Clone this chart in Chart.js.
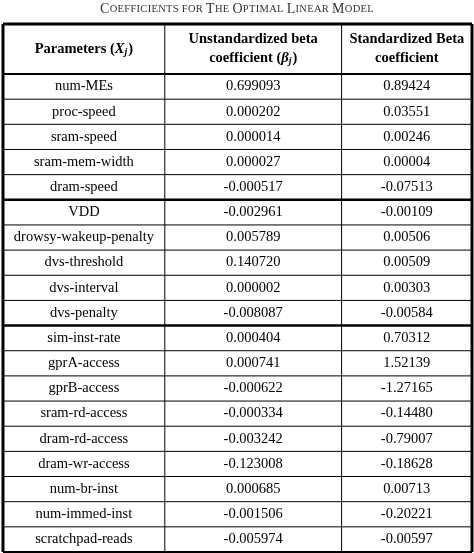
<!DOCTYPE html>
<html><head><meta charset="utf-8">
<script src="https://cdn.jsdelivr.net/npm/chart.js@4/dist/chart.umd.min.js"></script>
<style>
html,body{margin:0;padding:0;background:#fff;}
#wrap{width:474px;height:553px;position:relative;}
</style></head><body>
<div id="wrap"><canvas id="tbl"></canvas></div>
<script>
const params = ['num-MEs','proc-speed','sram-speed','sram-mem-width','dram-speed','VDD','drowsy-wakeup-penalty','dvs-threshold','dvs-interval','dvs-penalty','sim-inst-rate','gprA-access','gprB-access','sram-rd-access','dram-rd-access','dram-wr-access','num-br-inst','num-immed-inst','scratchpad-reads'];
const unstd = ['0.699093','0.000202','0.000014','0.000027','-0.000517','-0.002961','0.005789','0.140720','0.000002','-0.008087','0.000404','0.000741','-0.000622','-0.000334','-0.003242','-0.123008','0.000685','-0.001506','-0.005974'];
const std = ['0.89424','0.03551','0.00246','0.00004','-0.07513','-0.00109','0.00506','0.00509','0.00303','-0.00584','0.70312','1.52139','-1.27165','-0.14480','-0.79007','-0.18628','0.00713','-0.20221','-0.00597'];
const groupEnds = [4, 9];

const serif = '"Liberation Serif", "DejaVu Serif", serif';

// draw a run of [text, font] pieces centred on cx
function drawRuns(ctx, runs, cx, y) {
  let tw = 0;
  runs.forEach(r => { ctx.font = r[1]; tw += ctx.measureText(r[0]).width + (r[3] || 0); });
  let x = cx - tw / 2;
  ctx.textAlign = 'left';
  runs.forEach(r => { ctx.font = r[1]; ctx.fillText(r[0], x, y + (r[2] || 0)); x += ctx.measureText(r[0]).width + (r[3] || 0); });
  ctx.textAlign = 'center';
}

const tablePlugin = {
  id: 'table',
  afterDraw(chart) {
    const ctx = chart.ctx, xs = chart.scales.x, ys = chart.scales.y;
    const cols = [0, 1, 2, 3].map(v => xs.getPixelForValue(v));
    const top = 24, area = chart.chartArea;
    const rowH = ys.getPixelForValue(1) - ys.getPixelForValue(0);
    ctx.save();
    ctx.textBaseline = 'middle';
    // title in small caps
    ctx.fillStyle = '#333';
    const title = 'Coefficients for The Optimal Linear Model';
    const tr = title.split('').map(ch => [ch.toUpperCase(), (ch !== ch.toLowerCase() ? 14 : 10.5) + 'px ' + serif, 0, 0.3]);
    drawRuns(ctx, tr, 237, 9);

    ctx.fillStyle = '#000';
    ctx.strokeStyle = '#000';
    const hc = (i) => (cols[i] + cols[i + 1]) / 2;
    const B = 'bold 14.5px ' + serif, BI = 'bold italic 14.5px ' + serif, S = 'bold italic 10px ' + serif;
    drawRuns(ctx, [['Parameters (', B], ['X', BI], ['j', S, 3, 1], [')', B]], hc(0), 49);
    ctx.font = B;
    ctx.fillText('Unstandardized beta', hc(1), 39);
    drawRuns(ctx, [['coefficient (', B], ['\u03B2', BI], ['j', S, 3, 1], [')', B]], hc(1), 58);
    ctx.font = B;
    ctx.fillText('Standardized Beta', hc(2), 39);
    ctx.fillText('coefficient', hc(2), 58);

    ctx.font = '14.5px ' + serif;
    params.forEach((p, i) => {
      const y = ys.getPixelForValue(i);
      ctx.fillText(p, hc(0), y);
      ctx.fillText(unstd[i], hc(1), y);
      ctx.fillText(std[i], hc(2), y);
    });

    const line = (x1, y1, x2, y2, lw) => { ctx.lineWidth = lw; ctx.beginPath(); ctx.moveTo(x1, y1); ctx.lineTo(x2, y2); ctx.stroke(); };
    line(cols[0], top, cols[3], top, 3);
    line(cols[0], area.top, cols[3], area.top, 2);
    params.forEach((p, i) => {
      if (i === params.length - 1) return;
      const y = ys.getPixelForValue(i) + rowH / 2;
      line(cols[0], y, cols[3], y, groupEnds.includes(i) ? 2.5 : 1);
    });
    line(cols[0], area.bottom, cols[3], area.bottom, 2);
    line(cols[0], top, cols[0], area.bottom, 3);
    line(cols[3], top, cols[3], area.bottom, 3);
    line(cols[1], top, cols[1], area.bottom, 1);
    line(cols[2], top, cols[2], area.bottom, 1);
    ctx.restore();
  }
};

new Chart(document.getElementById('tbl'), {
  type: 'scatter',
  data: { labels: params, datasets: [{ data: [] }] },
  options: {
    responsive: true,
    maintainAspectRatio: false,
    animation: false,
    events: [],
    layout: { padding: { top: 74, bottom: 1, left: 3, right: 2 } },
    plugins: { legend: { display: false }, tooltip: { enabled: false } },
    scales: {
      x: { type: 'linear', min: 0, max: 3, display: false },
      y: { type: 'category', labels: params, offset: true, display: false }
    }
  },
  plugins: [{
    id: 'colwidths',
    afterLayout(chart) {
      const xs = chart.scales.x, a = chart.chartArea;
      const fr = [0, 0.345, 0.722, 1];
      xs.getPixelForValue = v => a.left + (a.right - a.left) * fr[Math.round(v)];
    }
  }, tablePlugin]
});
</script>
</body></html>
